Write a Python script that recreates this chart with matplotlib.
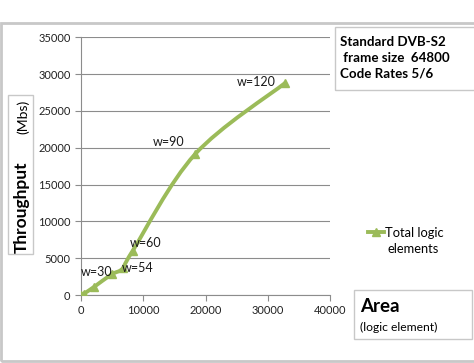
import numpy as np
import matplotlib.pyplot as plt
from matplotlib.path import Path
from matplotlib.patches import PathPatch, Rectangle
from matplotlib.lines import Line2D

plt.rcParams['font.family'] = ['Lato', 'DejaVu Sans']

# area (logic elements) vs throughput (Mbs)
area = [0, 500, 2100, 4900, 6700, 8300, 18300, 32800]
throughput = [0, 200, 1100, 2800, 3600, 6000, 19100, 28800]
labels = {3: 'w=30', 4: 'w=54', 5: 'w=60', 6: 'w=90', 7: 'w=120'}
label_offsets = {3: (-15, 2), 4: (15, 0), 5: (13, 8), 6: (-26, 12), 7: (-29, 1)}

green = '#9BBB59'
W, H = 474, 363

fig = plt.figure(figsize=(W / 100, H / 100), dpi=100)
ax = fig.add_axes([81 / W, 1 - 295 / H, 249 / W, (295 - 37.3) / H])

# outer chart frame
fig.patches.append(Rectangle((1 / W, 2 / H), 1.2, (361 - 23) / H, transform=fig.transFigure,
                             fill=False, edgecolor='#c8c8c8', lw=2))

# smoothed line like excel
x = np.array(area, float)
y = np.array(throughput, float)
verts = [(x[0], y[0])]
codes = [Path.MOVETO]
n = len(x)
for i in range(n - 1):
    p0 = i - 1 if i > 0 else i
    p3 = i + 2 if i + 2 < n else i + 1
    c1 = (x[i] + (x[i + 1] - x[p0]) / 6, y[i] + (y[i + 1] - y[p0]) / 6)
    c2 = (x[i + 1] - (x[p3] - x[i]) / 6, y[i + 1] - (y[p3] - y[i]) / 6)
    verts += [c1, c2, (x[i + 1], y[i + 1])]
    codes += [Path.CURVE4] * 3
ax.add_patch(PathPatch(Path(verts, codes), fill=False, edgecolor=green, lw=2.8, zorder=3))
ax.plot(area, throughput, ls='none', marker='^', ms=6, color=green, zorder=4)

for i, txt in labels.items():
    ax.annotate(txt, (area[i], throughput[i]), xytext=label_offsets[i], textcoords='offset pixels',
                ha='center', va='center', fontsize=9, color='#1a1a1a', zorder=5)

ax.set_xlim(0, 40000)
ax.set_ylim(0, 35000)
ax.set_xticks(range(0, 40001, 10000))
ax.set_yticks(range(0, 35001, 5000))
ax.grid(axis='y', color='#8c8c8c', lw=0.8)
ax.set_axisbelow(True)
for s in ['top', 'right']:
    ax.spines[s].set_visible(False)
for s in ['left', 'bottom']:
    ax.spines[s].set_color('#8c8c8c')
ax.tick_params(colors='#8c8c8c', labelcolor='#222222', labelsize=8, length=4, width=0.8)

# y axis title box
fig.patches.append(Rectangle((8 / W, 1 - 254 / H), 25 / W, 159 / H, transform=fig.transFigure,
                             fill=False, edgecolor='#c8c8c8', lw=1))
fig.text(27 / W, 1 - 253 / H, 'Throughput', rotation=90, rotation_mode='anchor',
         ha='left', va='baseline', fontsize=12.5, fontweight='bold')
fig.text(27 / W, 1 - 100 / H, '(Mbs)', rotation=90, rotation_mode='anchor',
         ha='right', va='baseline', fontsize=10)

# info box
fig.patches.append(Rectangle((335 / W, 1 - 90 / H), 150 / W, 63 / H, transform=fig.transFigure,
                             fill=False, edgecolor='#c8c8c8', lw=1))
fig.text(340 / W, 1 - 58 / H, 'Standard DVB-S2\n frame size  64800\nCode Rates 5/6',
         ha='left', va='center', fontsize=9.6, fontweight='bold', linespacing=1.35)

# x axis title box
fig.patches.append(Rectangle((354 / W, 1 - 339 / H), 118 / W, 49 / H, transform=fig.transFigure,
                             fill=False, edgecolor='#c8c8c8', lw=1))
fig.text(360 / W, 1 - 307 / H, 'Area', ha='left', va='center', fontsize=13.5, fontweight='bold')
fig.text(360 / W, 1 - 327 / H, '(logic element)', ha='left', va='center', fontsize=8.7)

handle = Line2D([], [], color=green, lw=2.8, marker='^', ms=6)
fig.legend([handle], ['Total logic'], loc='center left',
           bbox_to_anchor=(363 / W, 1 - 233 / H), frameon=False,
           fontsize=9.3, handlelength=1.2, handletextpad=0.1, borderaxespad=0)
fig.text(413 / W, 1 - 249 / H, 'elements', ha='center', va='center', fontsize=9.3)

fig.savefig('out.png', dpi=100)
